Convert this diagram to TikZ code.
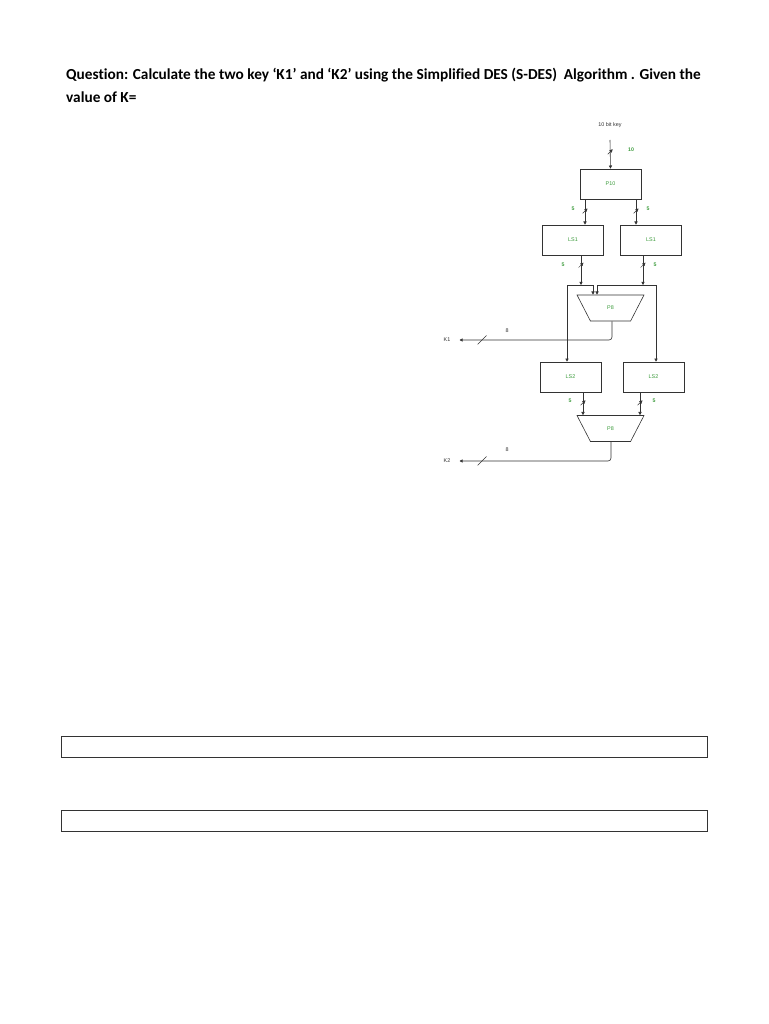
\documentclass[tikz,border=0pt]{standalone}
\usepackage{fontspec}
\usepackage{tikz}
\usetikzlibrary{arrows.meta,positioning,shapes.geometric}
\newfontfamily\qfont{Carlito}[Ligatures=NoCommon]
\newfontfamily\dfont{Liberation Sans}
\definecolor{colLbl}{HTML}{3A9A3A}
\definecolor{colLine}{HTML}{333333}

\begin{document}
\begin{tikzpicture}[x=1pt, y=-1pt,
  blk/.style={draw=colLine, line width=0.6pt, minimum width=61pt, minimum height=30pt,
              inner sep=0pt, font=\dfont\fontsize{5.4}{6}\selectfont, text=colLbl},
  mux/.style={draw=colLine, line width=0.6pt, trapezium, shape border rotate=180,
              trapezium left angle=60, trapezium right angle=60, trapezium stretches=true,
              minimum width=67pt, minimum height=26pt, inner sep=0pt,
              font=\dfont\fontsize{5.4}{6}\selectfont, text=colLbl},
  arr/.style={-{Triangle[length=3.2pt,width=3.2pt]}, line width=0.6pt, colLine},
  wire/.style={line width=0.6pt, colLine},
  bus/.style={minimum size=5pt, inner sep=0pt,
              path picture={\draw[colLine, line width=0.5pt] (path picture bounding box.south west)
                -- (path picture bounding box.north east);}},
  bigbus/.style={bus, minimum size=9pt},
  num/.style={font=\dfont\bfseries\fontsize{5.2}{6}\selectfont, text=colLbl, inner sep=0pt},
  txt/.style={font=\dfont\fontsize{5.4}{6}\selectfont, text=colLine, inner sep=0pt},
  ques/.style={font=\qfont\bfseries\fontsize{15.3}{18}\selectfont, anchor=base west, inner sep=0pt},
  ans/.style={draw=colLine, line width=0.8pt, minimum width=646pt, minimum height=21pt,
              inner sep=0pt, anchor=north west}
]
  \useasboundingbox (0,0) rectangle (768,1024);

  \node[ques] (q1) at (66,79.3)
    {Question: Calculate the two key ‘K1’ and ‘K2’ using the Simplified DES (S-DES)\ \ Algorithm . Given the};
  \node[ques] (q2) at (66,102.7) {value of K=};

  \node[txt] (key)  at (610,125)   {10 bit key};
  \node[blk] (p10)  at (610.5,184) {P10};
  \node[blk] (ls1a) at (573,240)   {LS1};
  \node[blk] (ls1b) at (651,240)   {LS1};
  \node[mux] (p8a)  at (610.5,308) {P8};
  \node[blk] (ls2a) at (570.5,377) {LS2};
  \node[blk] (ls2b) at (653.5,377) {LS2};
  \node[mux] (p8b)  at (610.5,428.5) {P8};
  \node[txt] (k1)   at (447,340)   {K1};
  \node[txt] (k2)   at (447,461)   {K2};

  \node[num] (w10)  at (631,150) {10};
  \node[num] (w5a)  at (573,209) {5};
  \node[num] (w5b)  at (648,209) {5};
  \node[num] (w5c)  at (563,265) {5};
  \node[num] (w5d)  at (655,265) {5};
  \node[num] (w5e)  at (570,401) {5};
  \node[num] (w5f)  at (654,401) {5};
  \node[txt] (w8a)  at (507,331) {8};
  \node[txt] (w8b)  at (507,450) {8};

  \coordinate (in)  at (610,140);
  \coordinate (jal) at (567,285);
  \coordinate (jar) at (593,285);
  \coordinate (jbl) at (597,285);
  \coordinate (jbr) at (656,285);

  \draw[arr] (in) -- (p10.north) node[bus, pos=0.41] (b1) {};
  \draw[arr] ([xshift=-25.5pt]p10.south) -- ([xshift=-25.5pt]p10.south |- ls1a.north)
    node[bus, pos=0.46] (b2) {};
  \draw[arr] ([xshift=25.5pt]p10.south) -- ([xshift=25.5pt]p10.south |- ls1b.north)
    node[bus, pos=0.46] (b3) {};

  \draw[arr] ([xshift=8pt]ls1a.south) -- ([xshift=8pt]ls1a.south |- jal) node[bus, pos=0.33] (b4) {};
  \draw[arr] ([xshift=-8pt]ls1b.south) -- ([xshift=-8pt]ls1b.south |- jbr) node[bus, pos=0.33] (b5) {};
  \draw[wire] (jal) -- (jar);
  \draw[wire] (jbl) -- (jbr);
  \draw[arr] (jar) -- (jar |- p8a.north);
  \draw[arr] (jbl) -- (jbl |- p8a.north);
  \draw[arr] (jal) -- (jal |- ls2a.north);
  \draw[arr] (jbr) -- (jbr |- ls2b.north);

  \draw[arr, rounded corners=3pt, shorten >=9pt] ([xshift=1.5pt]p8a.south) |- (k1);
  \node[bigbus] (b6) at (482,340) {};

  \draw[arr] ([xshift=12.5pt]ls2a.south) -- ([xshift=12.5pt]ls2a.south |- p8b.north)
    node[bus, pos=0.46] (b7) {};
  \draw[arr] ([xshift=-13.5pt]ls2b.south) -- ([xshift=-13.5pt]ls2b.south |- p8b.north)
    node[bus, pos=0.46] (b8) {};

  \draw[arr, rounded corners=3pt, shorten >=9pt] ([xshift=0.5pt]p8b.south) |- (k2);
  \node[bigbus] (b9) at (482,461) {};

  \node[ans] (a1) at (61,736) {};
  \node[ans] (a2) at (61,810) {};
\end{tikzpicture}
\end{document}
